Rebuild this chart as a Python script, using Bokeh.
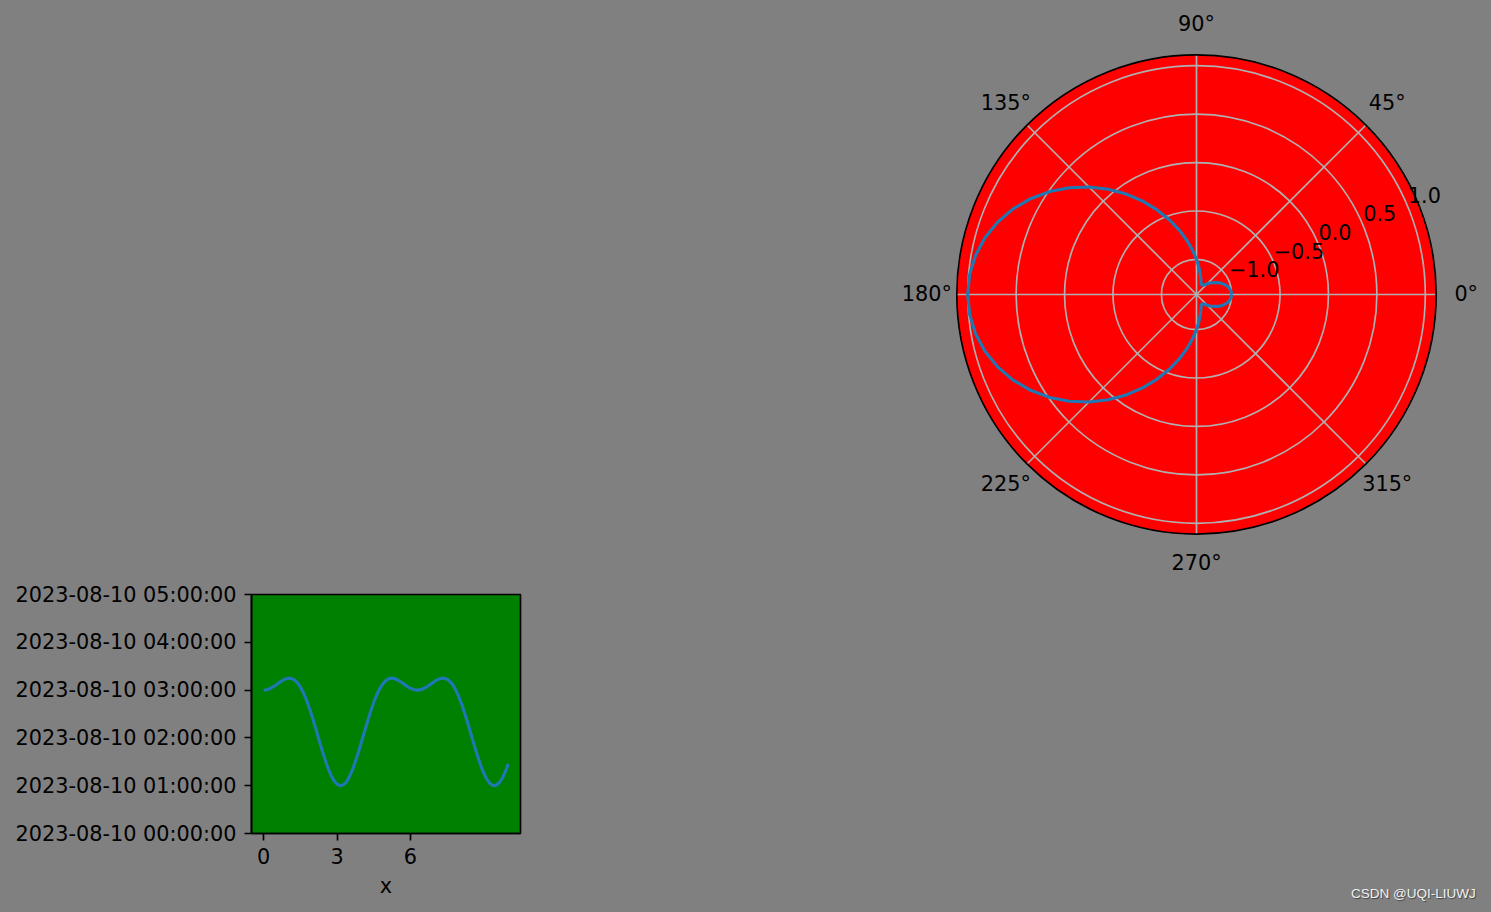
import numpy as np
from bokeh.plotting import figure
from bokeh.layouts import row, column
from bokeh.models import (Range1d, FixedTicker, DatetimeTickFormatter, Spacer, Div,
                          GlobalInlineStyleSheet)
from bokeh.core.properties import value
from bokeh.embed import file_html
from bokeh.resources import INLINE

# ---------------- data ----------------
# polar curve: angle (degrees) and radius
theta_deg = list(range(0, 361, 5))
r_vals = [
    -1.000, -1.004, -1.015, -1.033, -1.057, -1.085, -1.116, -1.148, -1.179, -1.207,
    -1.230, -1.245, -1.250, -1.244, -1.225, -1.192, -1.144, -1.080, -1.000, -0.905,
    -0.796, -0.674, -0.541, -0.399, -0.250, -0.097, 0.056, 0.207, 0.353, 0.490,
    0.616, 0.728, 0.823, 0.899, 0.955, 0.989, 1.000, 0.989, 0.955, 0.899,
    0.823, 0.728, 0.616, 0.490, 0.353, 0.207, 0.056, -0.097, -0.250, -0.399,
    -0.541, -0.674, -0.796, -0.905, -1.000, -1.080, -1.144, -1.192, -1.225, -1.244,
    -1.250, -1.245, -1.230, -1.207, -1.179, -1.148, -1.116, -1.085, -1.057, -1.033,
    -1.015, -1.004, -1.000,
]
r_min, r_max = -1.3625, 1.1125
r_ticks = [-1.0, -0.5, 0.0, 0.5, 1.0]
r_tick_labels = ["\u22121.0", "\u22120.5", "0.0", "0.5", "1.0"]
r_label_angle = 22.5
theta_ticks = [0, 45, 90, 135, 180, 225, 270, 315]
theta_tick_labels = ["0\u00b0", "45\u00b0", "90\u00b0", "135\u00b0", "180\u00b0",
                     "225\u00b0", "270\u00b0", "315\u00b0"]

# line chart with datetime y axis (y given in hours after base_date)
x_vals = [0.0, 0.125, 0.25, 0.375, 0.5, 0.625, 0.75, 0.875, 1.0, 1.125, 1.25, 1.375,
          1.5, 1.625, 1.75, 1.875, 2.0, 2.125, 2.25, 2.375, 2.5, 2.625, 2.75, 2.875,
          3.0, 3.125, 3.25, 3.375, 3.5, 3.625, 3.75, 3.875, 4.0, 4.125, 4.25, 4.375,
          4.5, 4.625, 4.75, 4.875, 5.0, 5.125, 5.25, 5.375, 5.5, 5.625, 5.75, 5.875,
          6.0, 6.125, 6.25, 6.375, 6.5, 6.625, 6.75, 6.875, 7.0, 7.125, 7.25, 7.375,
          7.5, 7.625, 7.75, 7.875, 8.0, 8.125, 8.25, 8.375, 8.5, 8.625, 8.75, 8.875,
          9.0, 9.125, 9.25, 9.375, 9.5, 9.625, 9.75, 9.875, 10.0]
y_hours = [3.000, 3.008, 3.030, 3.065, 3.107, 3.153, 3.196, 3.230, 3.248, 3.245,
           3.216, 3.157, 3.066, 2.943, 2.790, 2.611, 2.411, 2.197, 1.977, 1.761,
           1.557, 1.374, 1.221, 1.105, 1.030, 1.000, 1.018, 1.074, 1.187, 1.331,
           1.506, 1.705, 1.919, 2.139, 2.354, 2.559, 2.745, 2.905, 3.036, 3.136,
           3.203, 3.240, 3.250, 3.237, 3.206, 3.165, 3.120, 3.075, 3.038, 3.012,
           3.000, 3.004, 3.023, 3.055, 3.096, 3.141, 3.186, 3.222, 3.246, 3.248,
           3.226, 3.175, 3.095, 2.979, 2.833, 2.661, 2.462, 2.254, 2.036, 1.818,
           1.610, 1.420, 1.259, 1.132, 1.047, 1.004, 1.008, 1.060, 1.149, 1.289,
           1.457]
base_date = np.datetime64("2023-08-10T00:00:00")
y_tick_hours = [0, 1, 2, 3, 4, 5]
x_ticks = [0, 3, 6]
x_label = "x"
watermark = "CSDN @UQI-LIUWJ"

# ---------------- style ----------------
GRAY = "#808080"
LINE = "#1f77b4"
GRID = "#b0b0b0"
FONT = value("DejaVu Sans")
FS = "20.8px"
LW = 3.125
THIN = 1.67

# ---------------- polar chart ----------------
K = 96.85           # pixels per radial unit
R = r_max - r_min   # outer radius in plot units
cx, cy = 300, 294   # centre inside the polar figure (px)
PW, PH = 595, 580

polar = figure(width=PW, height=PH, title=None,
               x_range=Range1d(-cx / K, (PW - cx) / K),
               y_range=Range1d(-(PH - cy) / K, cy / K),
               x_axis_location=None, y_axis_location=None,
               output_backend="svg", toolbar_location=None,
               min_border=0, background_fill_color=GRAY, border_fill_color=GRAY,
               outline_line_color=None)
polar.grid.visible = False

polar.circle(x=[0], y=[0], radius=R, fill_color="#ff0000", line_color=None)
rho_ticks = [r - r_min for r in r_ticks]
polar.circle(x=[0] * len(rho_ticks), y=[0] * len(rho_ticks), radius=rho_ticks,
             fill_color=None, line_color=GRID, line_width=THIN)
ang = np.deg2rad(np.array(theta_ticks, dtype=float))
polar.segment(x0=[0] * len(ang), y0=[0] * len(ang), x1=R * np.cos(ang), y1=R * np.sin(ang),
              line_color=GRID, line_width=THIN)

th = np.deg2rad(np.array(theta_deg, dtype=float))
rho = np.array(r_vals) - r_min
polar.line(rho * np.cos(th), rho * np.sin(th), line_color=LINE, line_width=LW,
           line_join="round")

polar.circle(x=[0], y=[0], radius=R, fill_color=None, line_color="black", line_width=THIN)

lab_r = R + 30.0 / K
polar.text(x=lab_r * np.cos(ang), y=lab_r * np.sin(ang), text=theta_tick_labels,
           text_font=FONT, text_font_size=FS, text_color="black",
           text_align="center", text_baseline="middle", y_offset=-1)
ra = np.deg2rad(r_label_angle)
rho_t = np.array(rho_ticks)
polar.text(x=rho_t * np.cos(ra), y=rho_t * np.sin(ra), text=r_tick_labels,
           text_font=FONT, text_font_size=FS, text_color="black",
           text_align="left", text_baseline="bottom", y_offset=-4)

# ---------------- datetime line chart ----------------
base_ms = base_date.astype("datetime64[ms]").astype(np.int64).astype(float)
HOUR = 3600000.0
y_ms = [base_ms + h * HOUR for h in y_hours]
tick_ms = [base_ms + h * HOUR for h in y_tick_hours]

small = figure(width=540, height=332, title=None,
               x_range=Range1d(-0.5, 10.5),
               y_range=Range1d(tick_ms[0], tick_ms[-1]),
               y_axis_type="datetime",
               output_backend="svg", toolbar_location=None,
               min_border_left=251, min_border_right=20,
               min_border_top=14, min_border_bottom=79,
               background_fill_color="#008000", border_fill_color=GRAY,
               outline_line_color="black", outline_line_width=THIN)
small.grid.visible = False
small.line(x_vals, y_ms, line_color=LINE, line_width=LW, line_join="round")

small.xaxis.ticker = FixedTicker(ticks=x_ticks)
small.yaxis.ticker = FixedTicker(ticks=tick_ms)
fmt = "%Y-%m-%d %H:%M:%S"
small.yaxis.formatter = DatetimeTickFormatter(
    microseconds=fmt, milliseconds=fmt, seconds=fmt, minsec=fmt, minutes=fmt,
    hourmin=fmt, hours=fmt, days=fmt, months=fmt, years=fmt)
for ax in small.axis:
    ax.axis_line_color = "black"
    ax.axis_line_width = THIN
    ax.major_tick_line_color = "black"
    ax.major_tick_line_width = THIN
    ax.major_tick_out = 7
    ax.major_tick_in = 0
    ax.minor_tick_out = 0
    ax.minor_tick_in = 0
    ax.major_label_standoff = 7
    ax.major_label_text_font = "DejaVu Sans"
    ax.major_label_text_font_size = FS
    ax.major_label_text_color = "black"
small.yaxis.major_label_standoff = 8
small.xaxis.axis_label = x_label
small.xaxis.axis_label_text_font = "DejaVu Sans"
small.xaxis.axis_label_text_font_size = FS
small.xaxis.axis_label_text_font_style = "normal"
small.xaxis.axis_label_text_color = "black"
small.xaxis.axis_label_standoff = 7

# ---------------- watermark ----------------
wm = Div(width=951, height=332,
         text='<div style="margin-top:299px;padding-left:806px;white-space:nowrap;'
              'font-family:\'Liberation Sans\',Arial,sans-serif;font-size:13.5px;'
              'color:#f2f2f2;text-shadow:1px 1px 1px #404040;">' + watermark + '</div>')

layout = column(row(Spacer(width=896, height=580), polar), row(small, wm))
layout.stylesheets = [GlobalInlineStyleSheet(
    css="html, body { margin: 0; padding: 0; background: #808080; overflow: hidden; }")]

open("out.html", "w").write(file_html(layout, INLINE))
